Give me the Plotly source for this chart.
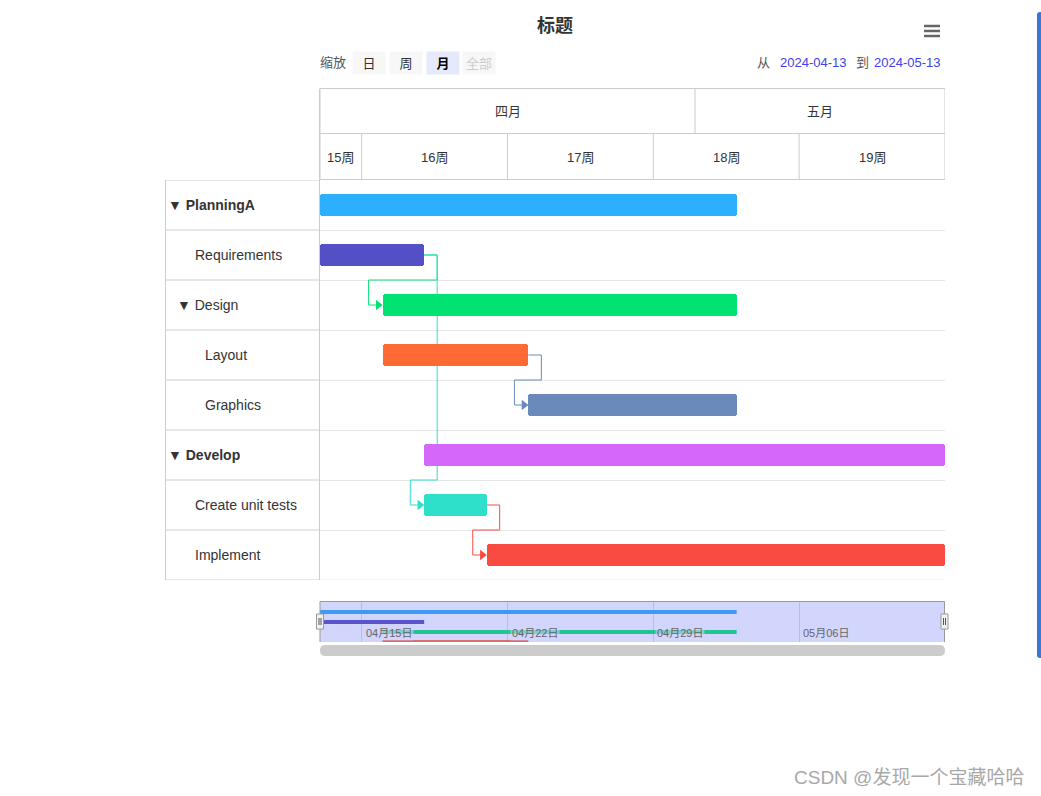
import plotly.graph_objects as go
import pandas as pd

# ---------------- data ----------------
tasks = ["PlanningA", "Requirements", "Design", "Layout", "Graphics",
         "Develop", "Create unit tests", "Implement"]
starts = ["2024-04-13", "2024-04-13", "2024-04-16", "2024-04-16", "2024-04-23",
          "2024-04-18", "2024-04-18", "2024-04-21"]
ends = ["2024-05-03", "2024-04-18", "2024-05-03", "2024-04-23", "2024-05-03",
        "2024-05-13", "2024-04-21", "2024-05-13"]
levels = [0, 1, 1, 2, 2, 0, 1, 1]
collapsible = [True, False, True, False, False, True, False, False]
colors = ["#2caffe", "#544fc5", "#00e272", "#fe6a35", "#6b8abc",
          "#d568fb", "#2ee0ca", "#fa4b42"]
nav_colors = ["#3d9cf2", "#5954cd", "#22c494", "#d8706a", "#6a86c0",
              "#b86be8", "#36c9bd", "#d9625e"]
dependencies = [(1, 2), (1, 6), (3, 4), (6, 7)]  # (from task, to task)

months = ["四月", "五月"]
month_bounds = ["2024-04-13", "2024-05-01", "2024-05-13"]
weeks = ["15周", "16周", "17周", "18周", "19周"]
week_bounds = ["2024-04-13", "2024-04-15", "2024-04-22", "2024-04-29",
               "2024-05-06", "2024-05-13"]
nav_ticks = ["2024-04-15", "2024-04-22", "2024-04-29", "2024-05-06"]
nav_labels = ["04月15日", "04月22日", "04月29日", "05月06日"]
range_start, range_end = "2024-04-13", "2024-05-13"
zoom_label = "缩放"
zoom_buttons = ["日", "周", "月", "全部"]
selected_button = "月"
disabled_button = "全部"
title_text = "标题"
watermark = "CSDN @发现一个宝藏哈哈"

# ---------------- geometry helpers (pixels -> paper) ----------------
FIG_W, FIG_H = 1041, 796
L, R, T, B = 320, 945, 88, 660


def px(x):
    return (x - L) / (R - L)


def py(y):
    return 1 - (y - T) / (B - T)


def rounded_path(x0, y0, x1, y1, r):
    def P(x, y):
        return f"{px(x):.5f},{py(y):.5f}"
    return (f"M{P(x0 + r, y0)} L{P(x1 - r, y0)} Q{P(x1, y0)} {P(x1, y0 + r)} "
            f"L{P(x1, y1 - r)} Q{P(x1, y1)} {P(x1 - r, y1)} L{P(x0 + r, y1)} "
            f"Q{P(x0, y1)} {P(x0, y1 - r)} L{P(x0, y0 + r)} Q{P(x0, y0)} {P(x0 + r, y0)} Z")


FONT = "Liberation Sans, Arial, Noto Sans CJK SC, sans-serif"
GRID_DARK = "#cccccc"
GRID_LIGHT = "#e6e6e6"

s = pd.to_datetime(starts)
e = pd.to_datetime(ends)
n = len(tasks)
rows = list(range(n))

fig = go.Figure()

# ---------------- main gantt bars ----------------
fig.add_trace(go.Bar(
    y=rows,
    x=[(b - a).total_seconds() * 1000 for a, b in zip(s, e)],
    base=[a.strftime("%Y-%m-%d") for a in s],
    orientation="h",
    width=0.44,
    marker=dict(color=colors, cornerradius=3, line=dict(width=0)),
    xaxis="x", yaxis="y",
    hovertext=tasks, hoverinfo="text",
    showlegend=False,
))

# ---------------- dependency connectors ----------------
OUT_GAP = pd.Timedelta(hours=15)   # ~13 px
IN_GAP = pd.Timedelta(hours=16)    # ~14 px
ARROW_OFF = pd.Timedelta(hours=5)
shapes = []
arrow_x, arrow_y, arrow_c = [], [], []
for f, t in dependencies:
    c = colors[t]
    x_a = e[f]
    x_b = e[f] + OUT_GAP
    x_c = s[t] - IN_GAP
    x_d = s[t]
    y_mid = t - 0.5
    pts = [(x_a, f), (x_b, f), (x_b, y_mid), (x_c, y_mid), (x_c, t), (x_d - ARROW_OFF, t)]
    for (xa, ya), (xb, yb) in zip(pts[:-1], pts[1:]):
        shapes.append(dict(type="line", xref="x", yref="y",
                           x0=xa.strftime("%Y-%m-%d %H:%M:%S"), y0=ya,
                           x1=xb.strftime("%Y-%m-%d %H:%M:%S"), y1=yb,
                           line=dict(color=c, width=1), layer="between"))
    arrow_x.append((x_d - ARROW_OFF).strftime("%Y-%m-%d %H:%M:%S"))
    arrow_y.append(t)
    arrow_c.append(c)

fig.add_trace(go.Scatter(
    x=arrow_x, y=arrow_y, mode="markers",
    marker=dict(symbol="triangle-right", size=9, color=arrow_c, line=dict(width=0)),
    xaxis="x", yaxis="y", hoverinfo="skip", showlegend=False,
))

# ---------------- navigator series ----------------
for i in rows:
    fig.add_trace(go.Scatter(
        x=[starts[i], ends[i]], y=[i, i], mode="lines",
        line=dict(color=nav_colors[i], width=4),
        xaxis="x2", yaxis="y2", hoverinfo="skip", showlegend=False,
    ))

# ---------------- header grid (timeline) ----------------
shapes.append(dict(type="rect", xref="x", yref="paper",
                   x0=range_start, x1=range_end, y0=py(179.5), y1=py(88.5),
                   line=dict(color=GRID_DARK, width=1), fillcolor="rgba(0,0,0,0)"))
shapes.append(dict(type="line", xref="x", yref="paper",
                   x0=range_start, x1=range_end, y0=py(133.5), y1=py(133.5),
                   line=dict(color=GRID_DARK, width=1)))
for d in month_bounds[1:-1]:
    shapes.append(dict(type="line", xref="x", yref="paper", x0=d, x1=d,
                       y0=py(88.5), y1=py(133.5), line=dict(color=GRID_DARK, width=1)))
for d in week_bounds[1:-1]:
    shapes.append(dict(type="line", xref="x", yref="paper", x0=d, x1=d,
                       y0=py(133.5), y1=py(179.5), line=dict(color=GRID_DARK, width=1)))

annotations = []


def ann(**kw):
    base = dict(showarrow=False, xanchor="center", yanchor="middle")
    base.update(kw)
    annotations.append(base)


mb = pd.to_datetime(month_bounds)
for i, m in enumerate(months):
    mid = mb[i] + (mb[i + 1] - mb[i]) / 2
    ann(x=mid.strftime("%Y-%m-%d %H:%M:%S"), xref="x", y=py(111), yref="paper",
        text=m, font=dict(size=13, color="#333333"))
wb = pd.to_datetime(week_bounds)
for i, w in enumerate(weeks):
    mid = wb[i] + (wb[i + 1] - wb[i]) / 2
    ann(x=mid.strftime("%Y-%m-%d %H:%M:%S"), xref="x", y=py(157), yref="paper",
        text=w, font=dict(size=13, color="#333333"))

# ---------------- left task table ----------------
shapes.append(dict(type="rect", xref="paper", yref="y",
                   x0=px(165.5), x1=px(319.5), y0=-0.5, y1=n - 0.5,
                   line=dict(color=GRID_DARK, width=1), fillcolor="rgba(0,0,0,0)"))
for k in range(n - 1):
    shapes.append(dict(type="line", xref="paper", yref="y", x0=px(165.5), x1=px(319.5),
                       y0=k + 0.5, y1=k + 0.5, line=dict(color=GRID_DARK, width=1)))
shapes.append(dict(type="line", xref="paper", yref="paper", x0=px(319.5), x1=px(319.5),
                   y0=py(580), y1=py(88.5), line=dict(color=GRID_DARK, width=1)))
shapes.append(dict(type="line", xref="x", yref="y", x0=range_start, x1=range_end,
                   y0=n - 0.5, y1=n - 0.5, line=dict(color=GRID_LIGHT, width=1), layer="between"))

for i, name in enumerate(tasks):
    if collapsible[i]:
        xpix = 166 + 9 * levels[i]
        label = "▼ " + (f"<b>{name}</b>" if levels[i] == 0 else name)
    else:
        xpix = 183 + 10 * levels[i]
        label = name
    ann(x=px(xpix), xref="paper", y=i, yref="y", xanchor="left",
        text=label, font=dict(size=14, color="#333333"))

# ---------------- navigator decorations ----------------
shapes.append(dict(type="rect", xref="x2 domain", yref="y2 domain", x0=0, x1=1, y0=0, y1=1,
                   fillcolor="#d2d6fd", line=dict(width=0), layer="below"))
shapes.append(dict(type="path", xref="paper", yref="paper",
                   path=f"M{px(320)},{py(642)} L{px(320)},{py(601.5)} L{px(944.5)},{py(601.5)} L{px(944.5)},{py(642)}",
                   line=dict(color="#999999", width=1)))
for hx in (320, 944.5):
    shapes.append(dict(type="rect", xref="paper", yref="paper",
                       x0=px(hx - 3.5), x1=px(hx + 3.5), y0=py(629), y1=py(614),
                       fillcolor="#f2f2f2", line=dict(color="#999999", width=1)))
    for gx in (hx - 1, hx + 1):
        shapes.append(dict(type="line", xref="paper", yref="paper",
                           x0=px(gx), x1=px(gx), y0=py(625), y1=py(618),
                           line=dict(color="#555555", width=1)))
for d, lab in zip(nav_ticks, nav_labels):
    ann(x=d, xref="x2", y=py(633), yref="paper", xanchor="left", xshift=2,
        text=lab, bgcolor="rgba(210,214,253,0.55)",
        font=dict(size=11, color="#666666"))

# scrollbar
shapes.append(dict(type="path", xref="paper", yref="paper",
                   path=rounded_path(320, 645, 945, 656, 5.5),
                   fillcolor="#cccccc", line=dict(width=0)))

# ---------------- top controls ----------------
ann(x=px(318), xref="paper", y=py(63), yref="paper", xanchor="left",
    text=zoom_label, font=dict(size=13, color="#555555"))
btn_centers = [369, 406, 443, 479]
for b, cx in zip(zoom_buttons, btn_centers):
    if b == selected_button:
        bg, col, txt = "#e6e9fb", "#000000", f"<b>{b}</b>"
    elif b == disabled_button:
        bg, col, txt = "#f7f7f7", "#cccccc", b
    else:
        bg, col, txt = "#f7f7f7", "#333333", b
    ann(x=px(cx), xref="paper", y=py(63.5), yref="paper",
        text=txt, bgcolor=bg, width=32, height=22,
        borderpad=0, font=dict(size=13, color=col))

ann(x=px(763), xref="paper", y=py(63), yref="paper",
    text="从", font=dict(size=13, color="#555555"))
ann(x=px(813.5), xref="paper", y=py(63), yref="paper",
    text=range_start, font=dict(size=13, color="#4040f0"))
ann(x=px(862), xref="paper", y=py(63), yref="paper",
    text="到", font=dict(size=13, color="#555555"))
ann(x=px(942.5), xref="paper", y=py(63), yref="paper", xanchor="right",
    text=range_end, font=dict(size=13, color="#4040f0"))

# title
ann(x=px(555), xref="paper", y=py(26), yref="paper",
    text=f"<b>{title_text}</b>", font=dict(size=18, color="#333333"))

# hamburger menu
for hy in (26, 31, 36):
    shapes.append(dict(type="line", xref="paper", yref="paper", x0=px(924), x1=px(940),
                       y0=py(hy), y1=py(hy), line=dict(color="#666666", width=2.5)))

# page-side blue bar and watermark
shapes.append(dict(type="path", xref="paper", yref="paper",
                   path=rounded_path(1037, 12, 1047, 658, 3),
                   fillcolor="#3a76d2", line=dict(width=0)))
ann(x=px(1026), xref="paper", y=py(777), yref="paper", xanchor="right",
    text=watermark,
    font=dict(size=19, color="#a8a8a8", family="Liberation Sans, Noto Sans CJK SC, sans-serif"))

# ---------------- layout ----------------
fig.update_layout(
    width=FIG_W, height=FIG_H,
    margin=dict(l=L, r=FIG_W - R, t=T, b=FIG_H - B, pad=0),
    paper_bgcolor="white", plot_bgcolor="white",
    font=dict(family=FONT, size=13, color="#333333"),
    showlegend=False,
    bargap=0,
    xaxis=dict(type="date", range=[range_start, range_end], domain=[0, 1], anchor="y",
               showgrid=False, zeroline=False, showticklabels=False, showline=False, ticks=""),
    yaxis=dict(range=[n - 0.5, -0.5], domain=[py(580), py(180)], anchor="x",
               tickvals=[k + 0.5 for k in range(n)], showgrid=True, gridcolor=GRID_LIGHT,
               gridwidth=1, zeroline=False, showticklabels=False, showline=False, ticks=""),
    xaxis2=dict(type="date", range=[range_start, range_end], domain=[0, 1], anchor="y2",
                tickvals=nav_ticks, showgrid=True, gridcolor="#b9bde6", zeroline=False,
                showticklabels=False, showline=False, ticks=""),
    yaxis2=dict(range=[3.0, -1.1], domain=[py(642), py(601)], anchor="x2",
                showgrid=False, zeroline=False, showticklabels=False, showline=False, ticks=""),
    shapes=shapes,
    annotations=annotations,
)

fig.write_html("out.html", config={"displayModeBar": False},
               post_script="document.body.style.margin='0';document.body.style.overflow='hidden';")
